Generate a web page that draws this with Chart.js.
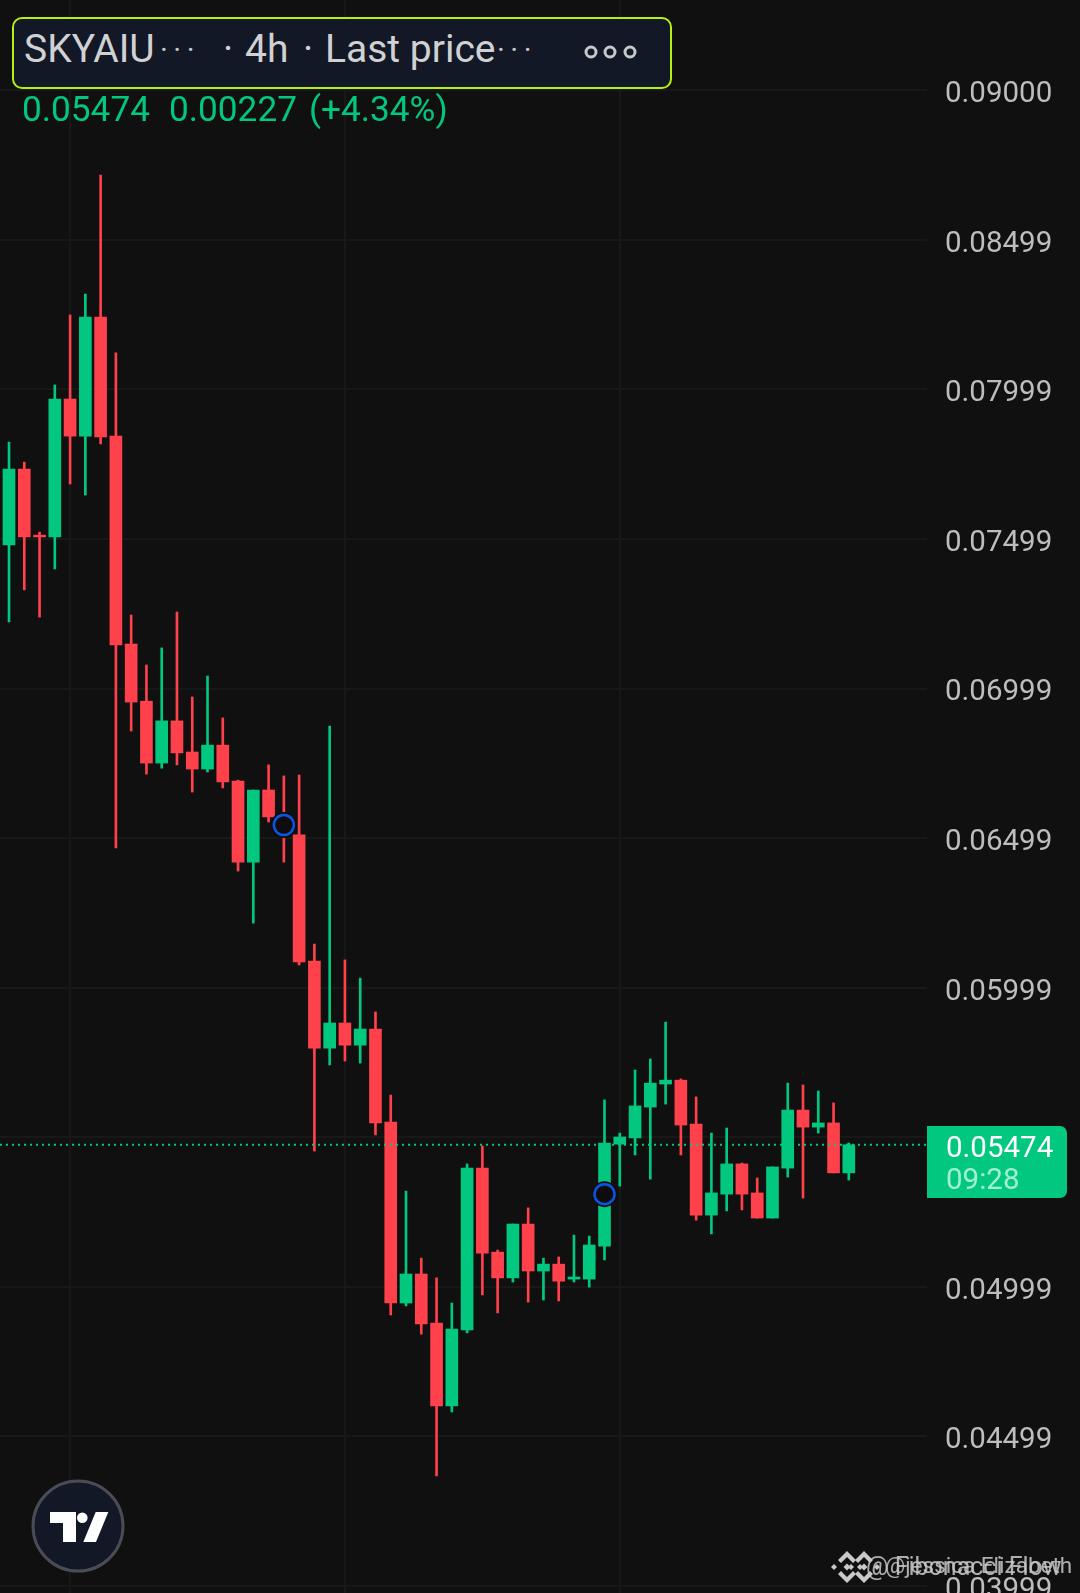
<!DOCTYPE html>
<html>

<head>
    <title>SKYAIU 4h</title>
    <script src="https://cdn.jsdelivr.net/npm/chart.js"></script>
    <style>
        body {
            background-color: #101010;
            font-family: Roboto, sans-serif;
            margin: 0;
            padding: 0;
            width: 1080px;
            height: 1593px;
            overflow: hidden;
            position: relative;
        }

        #chart {
            position: absolute;
            left: 0;
            top: 0;
        }

        .t {
            position: absolute;
            line-height: 1;
            white-space: pre;
        }

        .head {
            color: #d1d1d3;
            font-size: 39px;
        }

        .dots {
            color: #c8c8ca;
            font-size: 30px;
            letter-spacing: 5.5px;
        }

        .quote {
            color: #02c77f;
            font-size: 35.2px;
        }

        .wm {
            color: #c9c9c9;
            opacity: 0.85;
        }

        #headBox {
            position: absolute;
            left: 12px;
            top: 17px;
            width: 656px;
            height: 68px;
            border: 2px solid #b6f00c;
            border-radius: 10px;
            background-color: #131826;
        }

        #priceBox {
            position: absolute;
            left: 927px;
            top: 1126px;
            width: 140px;
            height: 72px;
            background-color: #02c77f;
            border-radius: 0 7px 7px 0;
        }

        svg.over {
            position: absolute;
            left: 0;
            top: 0;
        }
    </style>
</head>

<body>
    <canvas id="chart" width="1080" height="1593"></canvas>

    <div id="headBox"></div>
    <span class="t head" style="left:24px;top:30px">SKYAIU</span>
    <span class="t dots" style="left:160px;top:35px">···</span>
    <span class="t head" style="left:223px;top:30px">·</span>
    <span class="t head" style="left:245px;top:30px">4h</span>
    <span class="t head" style="left:303px;top:30px">·</span>
    <span class="t head" style="left:325px;top:30px">Last price</span>
    <span class="t dots" style="left:497px;top:35px">···</span>

    <span class="t quote" style="left:22px;top:92px">0.05474</span>
    <span class="t quote" style="left:169px;top:92px">0.00227</span>
    <span class="t quote" style="left:309px;top:92px">(+4.34%)</span>

    <div id="priceBox"></div>
    <span class="t" style="left:946px;top:1133px;font-size:29.5px;color:#ffffff">0.05474</span>
    <span class="t" style="left:946px;top:1165px;font-size:29.5px;color:#a2efd2">09:28</span>

    <svg class="over" width="1080" height="1593">
        <!-- menu dots -->
        <g fill="none" stroke="#c8c8ca" stroke-width="3">
            <circle cx="591" cy="52" r="5"></circle>
            <circle cx="610" cy="52" r="5"></circle>
            <circle cx="630" cy="52" r="5"></circle>
        </g>
        <!-- tradingview badge -->
        <circle cx="78" cy="1526" r="45" fill="#131826" stroke="#4a4c55" stroke-width="3"></circle>
        <g fill="#ffffff">
            <polygon points="50,1512 76,1512 76,1542 63,1542 63,1523 50,1523"></polygon>
            <circle cx="82.3" cy="1517.7" r="5.3"></circle>
            <polygon points="95.7,1512 108.3,1512 96,1542 83.3,1542"></polygon>
        </g>
        <!-- binance marks -->
        <defs>
            <g id="bnb">
                <polygon points="0,-16 9,-7 6,-4 0,-10 -6,-4 -9,-7"></polygon>
                <polygon points="0,16 9,7 6,4 0,10 -6,4 -9,7"></polygon>
                <polygon points="0,-3.5 3.5,0 0,3.5 -3.5,0"></polygon>
                <polygon points="-13,-3 -10,0 -13,3 -16,0"></polygon>
                <polygon points="13,-3 16,0 13,3 10,0"></polygon>
            </g>
        </defs>
        <g fill="#c9c9c9">
            <use href="#bnb" x="847" y="1567"></use>
            <use href="#bnb" x="864" y="1567"></use>
        </g>
    </svg>
    <span class="t wm" style="left:866px;top:1554px;font-size:25px">@ Fibonacci Flow</span>
    <span class="t wm" style="left:885px;top:1554px;font-size:22.5px">@jessica Elizabeth</span>

    <script>
        // OHLC, one entry per 4h candle
        const candleIdx = [...Array(56).keys()];
        const opens = [
            0.07479, 0.07733, 0.07512, 0.07506, 0.07967, 0.07843, 0.08241, 0.07843,
            0.07148, 0.06957, 0.06750, 0.06891, 0.06787, 0.06730, 0.06810, 0.06690,
            0.06419, 0.06660, 0.06566, 0.06510, 0.06088, 0.05797, 0.05881, 0.05807,
            0.05861, 0.05550, 0.04945, 0.05042, 0.04878, 0.04601, 0.04855, 0.05396,
            0.05115, 0.05029, 0.05209, 0.05052, 0.05075, 0.05025, 0.05025, 0.05135,
            0.05476, 0.05497, 0.05600, 0.05677, 0.05690, 0.05543, 0.05239, 0.05309,
            0.05410, 0.05313, 0.05229, 0.05396, 0.05590, 0.05533, 0.05547, 0.05380
        ];
        const highs = [
            0.07823, 0.07756, 0.07522, 0.08014, 0.08248, 0.08318, 0.08716, 0.08121,
            0.07245, 0.07078, 0.07135, 0.07255, 0.06971, 0.07041, 0.06901, 0.06693,
            0.06660, 0.06744, 0.06707, 0.06710, 0.06145, 0.06874, 0.06092, 0.06031,
            0.05918, 0.05640, 0.05319, 0.05095, 0.05029, 0.04945, 0.05410, 0.05470,
            0.05122, 0.05209, 0.05263, 0.05095, 0.05099, 0.05172, 0.05169, 0.05624,
            0.05513, 0.05724, 0.05761, 0.05884, 0.05694, 0.05634, 0.05513, 0.05530,
            0.05413, 0.05363, 0.05400, 0.05680, 0.05674, 0.05654, 0.05614, 0.05480
        ];
        const lows = [
            0.07222, 0.07329, 0.07238, 0.07399, 0.07683, 0.07646, 0.07817, 0.06466,
            0.06857, 0.06713, 0.06733, 0.06744, 0.06653, 0.06720, 0.06667, 0.06389,
            0.06215, 0.06553, 0.06419, 0.06075, 0.05453, 0.05741, 0.05754, 0.05747,
            0.05507, 0.04905, 0.04935, 0.04841, 0.04367, 0.04581, 0.04845, 0.04972,
            0.04912, 0.05015, 0.04948, 0.04955, 0.04952, 0.05015, 0.04998, 0.05089,
            0.05336, 0.05440, 0.05359, 0.05610, 0.05440, 0.05222, 0.05176, 0.05253,
            0.05256, 0.05229, 0.05229, 0.05366, 0.05296, 0.05513, 0.05380, 0.05356
        ];
        const closes = [
            0.07733, 0.07506, 0.07506, 0.07967, 0.07843, 0.08241, 0.07840, 0.07145,
            0.06954, 0.06750, 0.06891, 0.06784, 0.06730, 0.06810, 0.06687, 0.06419,
            0.06660, 0.06570, 0.06510, 0.06085, 0.05797, 0.05881, 0.05807, 0.05861,
            0.05547, 0.04945, 0.05042, 0.04875, 0.04601, 0.04858, 0.05396, 0.05112,
            0.05029, 0.05209, 0.05052, 0.05075, 0.05018, 0.05032, 0.05139, 0.05480,
            0.05500, 0.05604, 0.05680, 0.05690, 0.05540, 0.05239, 0.05313, 0.05410,
            0.05309, 0.05229, 0.05400, 0.05590, 0.05533, 0.05547, 0.05380, 0.05474
        ];
        const priceTicks = [0.09000, 0.08499, 0.07999, 0.07499, 0.06999, 0.06499, 0.05999, 0.05499, 0.04999, 0.04499, 0.03999];
        const timeTicks = [4, 22, 40];
        const markerIdx = [18, 39];
        const markerPrices = [0.06543, 0.05309];
        const lastPrice = 0.05474;

        const green = '#02c77f';
        const red = '#ff414c';
        const xMin = -0.59;
        const xMax = 60.12;

        const colors = candleIdx.map(i => closes[i] >= opens[i] ? green : red);
        const markers = markerIdx.map((x, i) => ({ x: x, y: markerPrices[i] }));

        new Chart(document.getElementById('chart').getContext('2d'), {
            type: 'bar',
            data: {
                datasets: [
                    {
                        // rings over the candles
                        type: 'line',
                        order: 0,
                        showLine: false,
                        data: markers,
                        pointRadius: 10,
                        pointBorderWidth: 2.5,
                        pointBackgroundColor: 'rgba(0,0,0,0)',
                        pointBorderColor: '#0a55e6'
                    },
                    {
                        type: 'line',
                        order: 1,
                        showLine: false,
                        data: markers,
                        pointRadius: 13,
                        pointBorderWidth: 0,
                        pointBackgroundColor: '#0d0d0d'
                    },
                    {
                        type: 'line',
                        order: 2,
                        data: [{ x: xMin, y: lastPrice }, { x: xMax, y: lastPrice }],
                        borderColor: green,
                        borderWidth: 2,
                        borderDash: [2, 4],
                        pointRadius: 0
                    },
                    {
                        // candle bodies
                        order: 3,
                        grouped: false,
                        data: candleIdx.map(i => ({ x: i, y: [opens[i], closes[i]] })),
                        backgroundColor: colors,
                        barThickness: 12,
                        borderSkipped: false
                    },
                    {
                        // wicks
                        order: 4,
                        grouped: false,
                        data: candleIdx.map(i => ({ x: i, y: [lows[i], highs[i]] })),
                        backgroundColor: colors,
                        barThickness: 2,
                        borderSkipped: false
                    }
                ]
            },
            options: {
                responsive: false,
                animation: false,
                events: [],
                layout: { padding: 0, autoPadding: false },
                plugins: {
                    legend: { display: false },
                    tooltip: { enabled: false }
                },
                scales: {
                    x: {
                        type: 'linear',
                        offset: false,
                        min: xMin,
                        max: xMax,
                        afterBuildTicks: scale => { scale.ticks = timeTicks.map(v => ({ value: v })); },
                        afterFit: scale => { scale.height = 0; },
                        border: { display: false },
                        grid: { offset: false, color: '#181818', lineWidth: 2, drawTicks: false },
                        ticks: { display: false }
                    },
                    y: {
                        type: 'linear',
                        position: 'right',
                        min: 0.039756,
                        max: 0.093009,
                        afterBuildTicks: scale => { scale.ticks = priceTicks.map(v => ({ value: v })); },
                        // the labels may overhang the plot, no room kept for them
                        afterFit: scale => {
                            scale.width = 153;
                            scale.paddingTop = 0;
                            scale.paddingBottom = 0;
                            scale._margins.top = 0;
                            scale._margins.bottom = 0;
                        },
                        border: { display: false },
                        grid: { color: '#181818', lineWidth: 2, drawTicks: false },
                        ticks: {
                            autoSkip: false,
                            padding: 18,
                            color: '#bdbdbd',
                            font: { family: 'Roboto', size: 29.5, lineHeight: '9px' },
                            // empty first line pushes the number a bit below its grid line
                            callback: v => ['', v.toFixed(5)]
                        }
                    }
                }
            }
        });
    </script>
</body>

</html>
